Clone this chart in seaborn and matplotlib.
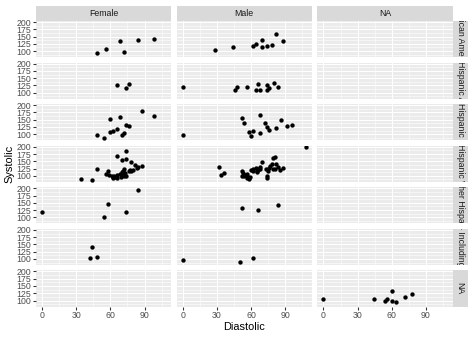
import matplotlib
matplotlib.use("Agg")
import matplotlib.pyplot as plt
from matplotlib.patches import Rectangle
from matplotlib.transforms import Bbox, TransformedBbox
import pandas as pd
import seaborn as sns

# Facet levels
genders = ["Female", "Male", "NA"]
races = ["Mexican American", "Non-Hispanic Asian", "Non-Hispanic Black",
         "Non-Hispanic White", "Other Hispanic",
         "Other Race - Including Multi-Racial", "NA"]

x_breaks = [0, 30, 60, 90]
y_breaks = [100, 125, 150, 175, 200]

# Blood pressure readings (diastolic, systolic) per race / gender
mex_f_dia = [48, 56, 68, 72, 84, 98]
mex_f_sys = [92, 107, 135, 98, 139, 143]
mex_m_dia = [28, 44, 62, 64, 70, 70, 74, 78, 82, 88]
mex_m_sys = [102, 113, 116, 124, 139, 115, 116, 120, 160, 136]

asian_f_dia = [66, 74, 76]
asian_f_sys = [125, 115, 131]
asian_m_dia = [0, 46, 48, 56, 64, 66, 68, 74, 74, 76, 80, 84]
asian_m_sys = [119, 108, 121, 121, 110, 129, 110, 127, 108, 116, 134, 119]

black_f_dia = [88, 98, 68, 60, 74, 76, 66, 62, 60, 72, 70, 48, 54]
black_f_sys = [180, 163, 160, 151, 132, 129, 119, 110, 108, 104, 98, 97, 87]
black_m_dia = [0, 52, 54, 68, 72, 74, 76, 62, 58, 68, 60, 82, 86, 92, 96]
black_m_sys = [97, 157, 138, 167, 137, 125, 113, 110, 107, 103, 94, 122, 150, 129, 133]

white_f_dia = [74, 66, 70, 74, 78, 82, 88, 83, 80, 78,
               48, 58, 56, 61, 62, 62, 66, 66, 68, 70,
               71, 72, 73, 74, 34, 44, 69, 71, 72, 63,
               64, 59, 76, 77, 84]
white_f_sys = [186, 167, 155, 159, 149, 136, 134, 128, 121, 115,
               123, 117, 106, 101, 97, 91, 92, 104, 105, 113,
               118, 124, 109, 100, 89, 85, 97, 102, 99, 100,
               96, 103, 118, 120, 130]
white_m_dia = [108, 32, 34, 36, 52, 53, 54, 52, 56, 58,
               59, 56, 62, 64, 65, 66, 65, 68, 70, 73,
               75, 74, 74, 76, 78, 79, 81, 82, 84, 85,
               81, 79, 88, 60, 62, 67, 68, 56, 55, 77]
white_m_sys = [198, 129, 104, 110, 115, 110, 101, 99, 92, 90,
               97, 107, 122, 126, 117, 122, 113, 130, 146, 122,
               115, 99, 92, 128, 142, 160, 164, 139, 131, 119,
               124, 122, 126, 120, 118, 125, 124, 100, 104, 135]

ohisp_f_dia = [0, 54, 58, 74, 84]
ohisp_f_sys = [118, 100, 147, 118, 194]
ohisp_m_dia = [52, 66, 84]
ohisp_m_sys = [133, 125, 141]

orace_f_dia = [44, 42, 48]
orace_f_sys = [142, 103, 106]
orace_m_dia = [0, 50, 62]
orace_m_sys = [98, 89, 103]

na_na_dia = [0, 44, 54, 56, 60, 60, 64, 72, 78]
na_na_sys = [104, 104, 100, 104, 133, 98, 94, 113, 123]

groups = [
    ("Mexican American", "Female", mex_f_dia, mex_f_sys),
    ("Mexican American", "Male", mex_m_dia, mex_m_sys),
    ("Non-Hispanic Asian", "Female", asian_f_dia, asian_f_sys),
    ("Non-Hispanic Asian", "Male", asian_m_dia, asian_m_sys),
    ("Non-Hispanic Black", "Female", black_f_dia, black_f_sys),
    ("Non-Hispanic Black", "Male", black_m_dia, black_m_sys),
    ("Non-Hispanic White", "Female", white_f_dia, white_f_sys),
    ("Non-Hispanic White", "Male", white_m_dia, white_m_sys),
    ("Other Hispanic", "Female", ohisp_f_dia, ohisp_f_sys),
    ("Other Hispanic", "Male", ohisp_m_dia, ohisp_m_sys),
    ("Other Race - Including Multi-Racial", "Female", orace_f_dia, orace_f_sys),
    ("Other Race - Including Multi-Racial", "Male", orace_m_dia, orace_m_sys),
    ("NA", "NA", na_na_dia, na_na_sys),
]
df = pd.concat(
    [pd.DataFrame({"Race": r, "Gender": g, "Diastolic": d, "Systolic": s})
     for r, g, d, s in groups],
    ignore_index=True,
)

sns.set_style("white")
plt.rcParams["font.family"] = ["Liberation Sans", "DejaVu Sans"]

W, H = 474, 338
fig = plt.figure(figsize=(W / 72, H / 72), dpi=72)
fig.patch.set_facecolor("white")

# pixel layout of the panel grid
left, top = 36.0, 21.0
right, bottom = 452.5, 306.5
gap = 5.5
strip = 15.5
ncol, nrow = len(genders), len(races)
pw = (right - left - gap * (ncol - 1)) / ncol
ph = (bottom - top - gap * (nrow - 1)) / nrow


def frac_rect(x, y, w, h):
    return [x / W, 1 - (y + h) / H, w / W, h / H]


def expand(lo, hi, m=0.05):
    span = hi - lo
    return lo - m * span, hi + m * span


xlim = expand(df["Diastolic"].min(), df["Diastolic"].max())
ylim = expand(df["Systolic"].min(), df["Systolic"].max())

panel_bg = "#EBEBEB"
strip_bg = "#D9D9D9"
strip_txt = "#1A1A1A"
tick_txt = "#4D4D4D"
tick_col = "#333333"

for i, race in enumerate(races):
    for j, gender in enumerate(genders):
        x0 = left + j * (pw + gap)
        y0 = top + i * (ph + gap)
        ax = fig.add_axes(frac_rect(x0, y0, pw, ph))
        ax.set_facecolor(panel_bg)
        sub = df[(df["Race"] == race) & (df["Gender"] == gender)]
        if len(sub):
            sns.scatterplot(data=sub, x="Diastolic", y="Systolic", ax=ax,
                            color="black", s=19, linewidth=0, legend=False,
                            zorder=3)
        ax.set_xlim(*xlim)
        ax.set_ylim(*ylim)
        ax.set_xlabel("")
        ax.set_ylabel("")
        ax.set_xticks(x_breaks)
        ax.set_xticks([b + 15 for b in x_breaks], minor=True)
        ax.set_yticks(y_breaks)
        ax.set_yticks([b - 12.5 for b in y_breaks], minor=True)
        ax.set_axisbelow(True)
        ax.grid(True, which="major", color="white", linewidth=1.07)
        ax.grid(True, which="minor", color="white", linewidth=0.53)
        for sp in ax.spines.values():
            sp.set_visible(False)
        ax.tick_params(which="minor", length=0)
        ax.tick_params(which="major", length=2.75, width=1.07, color=tick_col,
                       labelcolor=tick_txt, labelsize=8.8, pad=2.2)
        ax.tick_params(axis="x", bottom=(i == nrow - 1),
                       labelbottom=(i == nrow - 1))
        ax.tick_params(axis="y", left=(j == 0), labelleft=(j == 0))

        # column strips
        if i == 0:
            fig.add_artist(Rectangle((x0 / W, 1 - top / H), pw / W, strip / H,
                                     transform=fig.transFigure,
                                     facecolor=strip_bg, edgecolor="none"))
            fig.text((x0 + pw / 2) / W, 1 - (top - strip / 2) / H, gender,
                     ha="center", va="center", fontsize=8.8, color=strip_txt)
        # row strips (text clipped to the strip box)
        if j == ncol - 1:
            sx = right
            rect = Rectangle((sx / W, 1 - (y0 + ph) / H), strip / W, ph / H,
                             transform=fig.transFigure,
                             facecolor=strip_bg, edgecolor="none")
            fig.add_artist(rect)
            t = fig.text((sx + strip / 2) / W, 1 - (y0 + ph / 2) / H, race,
                         ha="center", va="center", rotation=270,
                         rotation_mode="anchor", fontsize=8.8,
                         color=strip_txt, clip_on=True)
            t.set_clip_box(TransformedBbox(
                Bbox([[sx / W, 1 - (y0 + ph) / H],
                      [(sx + strip) / W, 1 - y0 / H]]),
                fig.transFigure))

fig.text(9.5 / W, 1 - ((top + bottom) / 2) / H, "Systolic", rotation=90,
         ha="center", va="center", fontsize=11, color="black")
fig.text(((left + right) / 2) / W, 1 - 321.5 / H, "Diastolic",
         ha="center", va="top", fontsize=11, color="black")

fig.savefig("out.png", dpi=72)
